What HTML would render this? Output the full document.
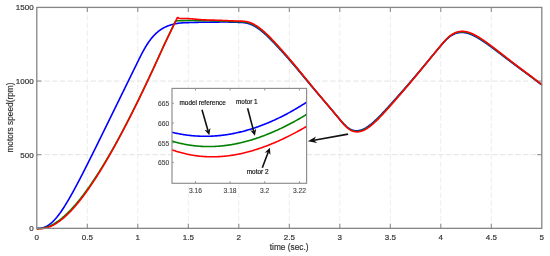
<!DOCTYPE html><html><head><meta charset="utf-8"><style>html,body{margin:0;padding:0;background:#fff;width:550px;height:256px;overflow:hidden}svg{display:block}text{font-family:"Liberation Sans",Arial,sans-serif;stroke-width:0.2px}</style></head><body><svg width="550" height="256" viewBox="0 0 550 256"><rect width="550" height="256" fill="#fff"/><path d="M87.30,7.40V228.35M137.80,7.40V228.35M188.30,7.40V228.35M238.80,7.40V228.35M289.30,7.40V228.35M339.80,7.40V228.35M390.30,7.40V228.35M440.80,7.40V228.35M491.30,7.40V228.35" stroke="#eaeaea" stroke-width="0.9" stroke-dasharray="5.2,2.52" fill="none"/><path d="M36.80,154.70H541.80M36.80,81.05H541.80" stroke="#e0e0e0" stroke-width="0.9" stroke-dasharray="5.2,2.52" fill="none"/><path d="M87.30,228.35v-4.6M87.30,7.40v4.6M137.80,228.35v-4.6M137.80,7.40v4.6M188.30,228.35v-4.6M188.30,7.40v4.6M238.80,228.35v-4.6M238.80,7.40v4.6M289.30,228.35v-4.6M289.30,7.40v4.6M339.80,228.35v-4.6M339.80,7.40v4.6M390.30,228.35v-4.6M390.30,7.40v4.6M440.80,228.35v-4.6M440.80,7.40v4.6M491.30,228.35v-4.6M491.30,7.40v4.6M36.80,154.70h4.6M541.80,154.70h-4.6M36.80,81.05h4.6M541.80,81.05h-4.6" stroke="#858585" stroke-width="1" fill="none"/><path d="M36.80,228.34 L37.13,228.34 L37.47,228.34 L37.80,228.33 L38.13,228.32 L38.47,228.31 L38.80,228.30 L39.13,228.29 L39.46,228.26 L39.80,228.24 L40.13,228.21 L40.46,228.17 L40.80,228.13 L41.13,228.09 L41.46,228.03 L41.80,227.97 L42.13,227.91 L42.46,227.83 L42.80,227.75 L43.13,227.66 L43.46,227.57 L43.79,227.47 L44.13,227.35 L44.46,227.24 L44.79,227.11 L45.13,226.98 L45.46,226.83 L45.79,226.68 L46.13,226.52 L46.46,226.36 L46.79,226.18 L47.13,226.00 L47.46,225.81 L47.79,225.61 L48.12,225.40 L48.46,225.18 L48.79,224.96 L49.12,224.72 L49.46,224.48 L49.79,224.23 L50.12,223.98 L50.46,223.71 L50.79,223.44 L51.12,223.16 L51.46,222.87 L51.79,222.57 L52.12,222.27 L52.45,221.96 L52.79,221.64 L53.12,221.31 L53.45,220.98 L53.79,220.64 L54.12,220.29 L54.45,219.93 L54.79,219.57 L55.12,219.20 L55.45,218.82 L55.79,218.44 L56.12,218.05 L56.45,217.65 L56.79,217.25 L57.12,216.84 L57.45,216.43 L57.78,216.01 L58.12,215.58 L58.45,215.15 L58.78,214.71 L59.12,214.26 L59.45,213.81 L59.78,213.36 L60.12,212.90 L60.45,212.43 L60.78,211.96 L61.12,211.48 L61.45,211.00 L61.78,210.51 L62.11,210.02 L62.45,209.52 L62.78,209.02 L63.11,208.52 L63.45,208.01 L63.78,207.49 L64.11,206.97 L64.45,206.45 L64.78,205.92 L65.11,205.39 L65.45,204.86 L65.78,204.32 L66.11,203.78 L66.44,203.23 L66.78,202.68 L67.11,202.13 L67.44,201.57 L67.78,201.01 L68.11,200.45 L68.44,199.88 L68.78,199.31 L69.11,198.74 L69.44,198.16 L69.78,197.58 L70.11,197.00 L70.44,196.42 L70.77,195.83 L71.11,195.24 L71.44,194.65 L71.77,194.05 L72.11,193.45 L72.44,192.85 L72.77,192.25 L73.11,191.65 L73.44,191.04 L73.77,190.43 L74.11,189.82 L74.44,189.21 L74.77,188.59 L75.10,187.98 L75.44,187.36 L75.77,186.74 L76.10,186.11 L76.44,185.49 L76.77,184.86 L77.10,184.23 L77.44,183.60 L77.77,182.97 L78.10,182.34 L78.44,181.70 L78.77,181.07 L79.10,180.43 L79.43,179.79 L79.77,179.15 L80.10,178.51 L80.43,177.87 L80.77,177.23 L81.10,176.58 L81.43,175.93 L81.77,175.29 L82.10,174.64 L82.43,173.99 L82.77,173.34 L83.10,172.69 L83.43,172.03 L83.76,171.38 L84.10,170.73 L84.43,170.07 L84.76,169.41 L85.10,168.76 L85.43,168.10 L85.76,167.44 L86.10,166.78 L86.43,166.12 L86.76,165.46 L87.10,164.80 L87.43,164.13 L87.76,163.47 L88.09,162.81 L88.43,162.14 L88.76,161.48 L89.09,160.81 L89.43,160.15 L89.76,159.48 L90.09,158.81 L90.43,158.14 L90.76,157.48 L91.09,156.81 L91.43,156.14 L91.76,155.47 L92.09,154.80 L92.43,154.13 L92.76,153.46 L93.09,152.79 L93.42,152.11 L93.76,151.44 L94.09,150.77 L94.42,150.10 L94.76,149.42 L95.09,148.75 L95.42,148.08 L95.76,147.40 L96.09,146.73 L96.42,146.05 L96.76,145.38 L97.09,144.70 L97.42,144.03 L97.75,143.35 L98.09,142.68 L98.42,142.00 L98.75,141.33 L99.09,140.65 L99.42,139.97 L99.75,139.30 L100.09,138.62 L100.42,137.94 L100.75,137.26 L101.09,136.59 L101.42,135.91 L101.75,135.23 L102.08,134.55 L102.42,133.88 L102.75,133.20 L103.08,132.52 L103.42,131.84 L103.75,131.16 L104.08,130.49 L104.42,129.81 L104.75,129.13 L105.08,128.45 L105.42,127.77 L105.75,127.09 L106.08,126.41 L106.41,125.74 L106.75,125.06 L107.08,124.38 L107.41,123.70 L107.75,123.02 L108.08,122.34 L108.41,121.66 L108.75,120.98 L109.08,120.30 L109.41,119.62 L109.75,118.94 L110.08,118.26 L110.41,117.58 L110.74,116.91 L111.08,116.23 L111.41,115.55 L111.74,114.87 L112.08,114.19 L112.41,113.51 L112.74,112.83 L113.08,112.15 L113.41,111.47 L113.74,110.79 L114.08,110.11 L114.41,109.43 L114.74,108.75 L115.07,108.07 L115.41,107.39 L115.74,106.71 L116.07,106.03 L116.41,105.35 L116.74,104.67 L117.07,103.99 L117.41,103.31 L117.74,102.63 L118.07,101.95 L118.41,101.27 L118.74,100.59 L119.07,99.91 L119.40,99.23 L119.74,98.55 L120.07,97.87 L120.40,97.19 L120.74,96.51 L121.07,95.83 L121.40,95.15 L121.74,94.47 L122.07,93.79 L122.40,93.11 L122.74,92.43 L123.07,91.75 L123.40,91.07 L123.73,90.39 L124.07,89.71 L124.40,89.03 L124.73,88.36 L125.07,87.68 L125.40,87.00 L125.73,86.32 L126.07,85.64 L126.40,84.96 L126.73,84.28 L127.07,83.60 L127.40,82.92 L127.73,82.24 L128.07,81.56 L128.40,80.88 L128.73,80.20 L129.06,79.52 L129.40,78.84 L129.73,78.16 L130.06,77.48 L130.40,76.80 L130.73,76.12 L131.06,75.44 L131.40,74.76 L131.73,74.08 L132.06,73.40 L132.40,72.72 L132.73,72.04 L133.06,71.36 L133.39,70.68 L133.73,70.00 L134.06,69.32 L134.39,68.64 L134.73,67.96 L135.06,67.28 L135.39,66.60 L135.73,65.92 L136.06,65.24 L136.39,64.55 L136.73,63.87 L137.06,63.19 L137.39,62.51 L137.72,61.83 L138.06,61.15 L138.39,60.48 L138.72,59.80 L139.06,59.12 L139.39,58.45 L139.72,57.78 L140.06,57.12 L140.39,56.45 L140.72,55.80 L141.06,55.14 L141.39,54.50 L141.72,53.86 L142.05,53.22 L142.39,52.59 L142.72,51.97 L143.05,51.35 L143.39,50.74 L143.72,50.14 L144.05,49.54 L144.39,48.95 L144.72,48.37 L145.05,47.80 L145.39,47.24 L145.72,46.68 L146.05,46.13 L146.38,45.59 L146.72,45.05 L147.05,44.53 L147.38,44.01 L147.72,43.50 L148.05,43.00 L148.38,42.51 L148.72,42.03 L149.05,41.55 L149.38,41.08 L149.72,40.63 L150.05,40.17 L150.38,39.73 L150.71,39.30 L151.05,38.87 L151.38,38.45 L151.71,38.04 L152.05,37.64 L152.38,37.24 L152.71,36.86 L153.05,36.48 L153.38,36.10 L153.71,35.74 L154.05,35.38 L154.38,35.03 L154.71,34.69 L155.06,34.38 L155.56,33.89 L156.06,33.41 L156.56,32.94 L157.06,32.49 L157.56,32.06 L158.06,31.64 L158.56,31.23 L159.07,30.84 L159.57,30.47 L160.07,30.11 L160.57,29.76 L161.07,29.42 L161.57,29.10 L162.07,28.79 L162.57,28.49 L163.07,28.20 L163.57,27.92 L164.08,27.65 L164.58,27.40 L165.08,27.15 L165.58,26.91 L166.08,26.68 L166.58,26.46 L167.08,26.25 L167.58,26.04 L168.08,25.85 L168.58,25.66 L169.09,25.48 L169.59,25.31 L170.09,25.14 L170.59,24.98 L171.09,24.83 L171.59,24.68 L172.09,24.54 L172.59,24.41 L173.09,24.28 L173.59,24.16 L174.09,24.04 L174.60,23.92 L175.10,23.82 L175.60,23.71 L176.10,23.61 L176.60,23.52 L177.10,23.43 L177.60,23.34 L178.10,23.26 L178.60,23.18 L179.10,23.10 L179.61,23.03 L180.30,23.01 L180.80,22.97 L181.30,22.93 L181.80,22.89 L182.30,22.85 L182.80,22.81 L183.30,22.77 L183.80,22.73 L184.30,22.71 L184.80,22.70 L185.30,22.68 L185.80,22.67 L186.30,22.66 L186.80,22.64 L187.30,22.63 L187.80,22.61 L188.30,22.60 L188.80,22.59 L189.30,22.57 L189.80,22.56 L190.30,22.54 L190.80,22.53 L191.30,22.52 L191.80,22.50 L192.30,22.49 L192.80,22.47 L193.30,22.46 L193.80,22.45 L194.30,22.43 L194.80,22.42 L195.30,22.41 L195.80,22.39 L196.30,22.38 L196.80,22.37 L197.30,22.36 L197.80,22.35 L198.30,22.33 L198.80,22.32 L199.30,22.31 L199.80,22.30 L200.30,22.30 L200.80,22.29 L201.30,22.28 L201.80,22.28 L202.30,22.27 L202.80,22.27 L203.30,22.26 L203.80,22.25 L204.30,22.25 L204.80,22.24 L205.30,22.23 L205.80,22.23 L206.30,22.22 L206.80,22.21 L207.30,22.21 L207.80,22.20 L208.30,22.20 L208.80,22.19 L209.30,22.18 L209.80,22.18 L210.30,22.17 L210.80,22.17 L211.30,22.16 L211.80,22.15 L212.30,22.15 L212.80,22.14 L213.30,22.13 L213.80,22.13 L214.30,22.12 L214.80,22.12 L215.30,22.11 L215.80,22.10 L216.30,22.10 L216.80,22.09 L217.30,22.09 L217.80,22.09 L218.30,22.08 L218.80,22.08 L219.30,22.08 L219.80,22.07 L220.30,22.07 L220.80,22.06 L221.30,22.06 L221.80,22.06 L222.30,22.05 L222.80,22.05 L223.30,22.05 L223.80,22.05 L224.30,22.05 L224.80,22.05 L225.30,22.05 L225.80,22.05 L226.30,22.05 L226.80,22.06 L227.30,22.06 L227.80,22.07 L228.30,22.07 L228.80,22.08 L229.30,22.09 L229.80,22.10 L230.30,22.11 L230.80,22.13 L231.30,22.14 L231.80,22.15 L232.30,22.17 L232.80,22.18 L233.30,22.20 L233.80,22.21 L234.30,22.23 L234.80,22.25 L235.30,22.26 L235.80,22.28 L236.30,22.29 L236.80,22.31 L237.30,22.32 L237.80,22.33 L238.30,22.35 L238.80,22.36 L239.30,22.37 L239.80,22.38 L240.30,22.40 L240.80,22.41 L241.30,22.44 L241.80,22.46 L242.30,22.49 L242.80,22.53 L243.30,22.58 L243.80,22.63 L244.30,22.69 L244.80,22.76 L245.30,22.84 L245.80,22.93 L246.30,23.03 L246.80,23.13 L247.30,23.25 L247.80,23.38 L248.30,23.52 L248.80,23.67 L249.30,23.83 L249.80,24.01 L250.30,24.19 L250.80,24.39 L251.30,24.60 L251.80,24.81 L252.30,25.04 L252.80,25.28 L253.30,25.53 L253.80,25.79 L254.30,26.07 L254.80,26.35 L255.30,26.64 L255.80,26.94 L256.30,27.26 L256.80,27.58 L257.30,27.91 L257.80,28.25 L258.30,28.60 L258.80,28.96 L259.30,29.33 L259.80,29.70 L260.30,30.08 L260.80,30.47 L261.30,30.87 L261.80,31.28 L262.30,31.69 L262.80,32.11 L263.30,32.54 L263.80,32.97 L264.30,33.41 L264.80,33.86 L265.30,34.31 L265.80,34.77 L266.30,35.23 L266.80,35.70 L267.30,36.18 L267.80,36.66 L268.30,37.14 L268.80,37.63 L269.30,38.12 L269.80,38.62 L270.30,39.12 L270.80,39.62 L271.30,40.13 L271.80,40.64 L272.30,41.15 L272.80,41.67 L273.30,42.19 L273.80,42.71 L274.30,43.24 L274.80,43.76 L275.30,44.29 L275.80,44.82 L276.30,45.36 L276.80,45.89 L277.30,46.43 L277.80,46.97 L278.30,47.51 L278.80,48.05 L279.30,48.59 L279.80,49.13 L280.30,49.67 L280.80,50.22 L281.30,50.77 L281.80,51.32 L282.30,51.87 L282.80,52.42 L283.30,52.97 L283.80,53.53 L284.30,54.08 L284.80,54.64 L285.30,55.20 L285.80,55.76 L286.30,56.32 L286.80,56.89 L287.30,57.46 L287.80,58.02 L288.30,58.59 L288.80,59.17 L289.30,59.74 L289.80,60.31 L290.30,60.89 L290.80,61.47 L291.30,62.05 L291.80,62.63 L292.30,63.21 L292.80,63.79 L293.30,64.38 L293.80,64.97 L294.30,65.55 L294.80,66.14 L295.30,66.73 L295.80,67.33 L296.30,67.92 L296.80,68.51 L297.30,69.11 L297.80,69.70 L298.30,70.30 L298.80,70.90 L299.30,71.50 L299.80,72.10 L300.30,72.70 L300.80,73.30 L301.30,73.90 L301.80,74.50 L302.30,75.10 L302.80,75.71 L303.30,76.31 L303.80,76.91 L304.30,77.51 L304.80,78.11 L305.30,78.72 L305.80,79.32 L306.30,79.92 L306.80,80.52 L307.30,81.12 L307.80,81.72 L308.30,82.32 L308.80,82.92 L309.30,83.52 L309.80,84.11 L310.30,84.71 L310.80,85.31 L311.30,85.90 L311.80,86.50 L312.30,87.09 L312.80,87.68 L313.30,88.28 L313.80,88.87 L314.30,89.46 L314.80,90.05 L315.30,90.64 L315.80,91.23 L316.30,91.82 L316.80,92.41 L317.30,92.99 L317.80,93.58 L318.30,94.16 L318.80,94.75 L319.30,95.33 L319.80,95.91 L320.30,96.50 L320.80,97.08 L321.30,97.66 L321.80,98.24 L322.30,98.82 L322.80,99.41 L323.30,99.99 L323.80,100.57 L324.30,101.15 L324.80,101.73 L325.30,102.31 L325.80,102.89 L326.30,103.48 L326.80,104.06 L327.30,104.64 L327.80,105.23 L328.30,105.81 L328.80,106.39 L329.30,106.98 L329.80,107.56 L330.30,108.15 L330.80,108.73 L331.30,109.32 L331.80,109.91 L332.30,110.50 L332.80,111.09 L333.30,111.67 L333.80,112.26 L334.30,112.85 L334.80,113.44 L335.30,114.04 L335.80,114.63 L336.30,115.22 L336.80,115.81 L337.30,116.41 L337.80,117.00 L338.30,117.60 L338.80,118.19 L339.30,118.79 L339.80,119.39 L340.30,119.98 L340.80,120.57 L341.30,121.15 L341.80,121.73 L342.30,122.30 L342.80,122.85 L343.30,123.40 L343.80,123.93 L344.30,124.44 L344.80,124.94 L345.30,125.42 L345.80,125.88 L346.30,126.32 L346.80,126.75 L347.30,127.15 L347.80,127.53 L348.30,127.90 L348.80,128.24 L349.30,128.56 L349.80,128.85 L350.30,129.13 L350.80,129.38 L351.30,129.61 L351.80,129.82 L352.30,130.01 L352.80,130.17 L353.30,130.32 L353.80,130.44 L354.30,130.54 L354.80,130.62 L355.30,130.68 L355.80,130.72 L356.30,130.74 L356.80,130.74 L357.30,130.72 L357.80,130.68 L358.30,130.63 L358.80,130.55 L359.30,130.46 L359.80,130.35 L360.30,130.23 L360.80,130.09 L361.30,129.93 L361.80,129.76 L362.30,129.58 L362.80,129.37 L363.30,129.15 L363.80,128.92 L364.30,128.68 L364.80,128.42 L365.30,128.14 L365.80,127.86 L366.30,127.56 L366.80,127.24 L367.30,126.92 L367.80,126.58 L368.30,126.24 L368.80,125.88 L369.30,125.51 L369.80,125.13 L370.30,124.74 L370.80,124.35 L371.30,123.94 L371.80,123.52 L372.30,123.10 L372.80,122.67 L373.30,122.23 L373.80,121.78 L374.30,121.33 L374.80,120.87 L375.30,120.41 L375.80,119.94 L376.30,119.46 L376.80,118.98 L377.30,118.49 L377.80,118.00 L378.30,117.50 L378.80,117.00 L379.30,116.50 L379.80,115.99 L380.30,115.48 L380.80,114.97 L381.30,114.45 L381.80,113.93 L382.30,113.41 L382.80,112.89 L383.30,112.36 L383.80,111.83 L384.30,111.30 L384.80,110.76 L385.30,110.22 L385.80,109.68 L386.30,109.14 L386.80,108.60 L387.30,108.05 L387.80,107.51 L388.30,106.96 L388.80,106.41 L389.30,105.86 L389.80,105.30 L390.30,104.75 L390.80,104.19 L391.30,103.64 L391.80,103.08 L392.30,102.52 L392.80,101.96 L393.30,101.40 L393.80,100.84 L394.30,100.28 L394.80,99.72 L395.30,99.15 L395.80,98.59 L396.30,98.03 L396.80,97.46 L397.30,96.90 L397.80,96.33 L398.30,95.77 L398.80,95.20 L399.30,94.63 L399.80,94.07 L400.30,93.50 L400.80,92.93 L401.30,92.37 L401.80,91.80 L402.30,91.23 L402.80,90.66 L403.30,90.10 L403.80,89.53 L404.30,88.96 L404.80,88.39 L405.30,87.81 L405.80,87.24 L406.30,86.67 L406.80,86.09 L407.30,85.52 L407.80,84.94 L408.30,84.37 L408.80,83.79 L409.30,83.21 L409.80,82.63 L410.30,82.05 L410.80,81.47 L411.30,80.89 L411.80,80.30 L412.30,79.72 L412.80,79.13 L413.30,78.55 L413.80,77.96 L414.30,77.37 L414.80,76.78 L415.30,76.19 L415.80,75.60 L416.30,75.01 L416.80,74.42 L417.30,73.82 L417.80,73.23 L418.30,72.64 L418.80,72.04 L419.30,71.44 L419.80,70.85 L420.30,70.25 L420.80,69.65 L421.30,69.05 L421.80,68.45 L422.30,67.85 L422.80,67.25 L423.30,66.65 L423.80,66.05 L424.30,65.45 L424.80,64.85 L425.30,64.25 L425.80,63.65 L426.30,63.05 L426.80,62.45 L427.30,61.84 L427.80,61.24 L428.30,60.64 L428.80,60.04 L429.30,59.44 L429.80,58.84 L430.30,58.24 L430.80,57.64 L431.30,57.04 L431.80,56.45 L432.30,55.85 L432.80,55.25 L433.30,54.65 L433.80,54.05 L434.30,53.46 L434.80,52.86 L435.30,52.26 L435.80,51.67 L436.30,51.07 L436.80,50.48 L437.30,49.88 L437.80,49.29 L438.30,48.69 L438.80,48.10 L439.30,47.51 L439.80,46.91 L440.30,46.32 L440.80,45.73 L441.30,45.14 L441.80,44.55 L442.30,43.97 L442.80,43.40 L443.30,42.83 L443.80,42.28 L444.30,41.73 L444.80,41.20 L445.30,40.68 L445.80,40.17 L446.30,39.67 L446.80,39.19 L447.30,38.73 L447.80,38.28 L448.30,37.85 L448.80,37.43 L449.30,37.03 L449.80,36.65 L450.30,36.28 L450.80,35.93 L451.30,35.60 L451.80,35.29 L452.30,34.99 L452.80,34.72 L453.30,34.46 L453.80,34.21 L454.30,33.98 L454.80,33.77 L455.30,33.58 L455.80,33.40 L456.30,33.24 L456.80,33.10 L457.30,32.97 L457.80,32.85 L458.30,32.75 L458.80,32.67 L459.30,32.60 L459.80,32.54 L460.30,32.50 L460.80,32.47 L461.30,32.45 L461.80,32.45 L462.30,32.45 L462.80,32.48 L463.30,32.51 L463.80,32.55 L464.30,32.61 L464.80,32.68 L465.30,32.77 L465.80,32.86 L466.30,32.96 L466.80,33.08 L467.30,33.21 L467.80,33.35 L468.30,33.49 L468.80,33.65 L469.30,33.82 L469.80,34.00 L470.30,34.19 L470.80,34.38 L471.30,34.59 L471.80,34.80 L472.30,35.02 L472.80,35.25 L473.30,35.49 L473.80,35.73 L474.30,35.98 L474.80,36.24 L475.30,36.51 L475.80,36.78 L476.30,37.05 L476.80,37.33 L477.30,37.62 L477.80,37.91 L478.30,38.21 L478.80,38.51 L479.30,38.82 L479.80,39.13 L480.30,39.44 L480.80,39.76 L481.30,40.08 L481.80,40.40 L482.30,40.73 L482.80,41.06 L483.30,41.39 L483.80,41.73 L484.30,42.07 L484.80,42.41 L485.30,42.75 L485.80,43.10 L486.30,43.45 L486.80,43.80 L487.30,44.15 L487.80,44.51 L488.30,44.87 L488.80,45.23 L489.30,45.59 L489.80,45.95 L490.30,46.32 L490.80,46.68 L491.30,47.05 L491.80,47.42 L492.30,47.79 L492.80,48.16 L493.30,48.53 L493.80,48.91 L494.30,49.28 L494.80,49.66 L495.30,50.03 L495.80,50.41 L496.30,50.79 L496.80,51.17 L497.30,51.55 L497.80,51.93 L498.30,52.31 L498.80,52.69 L499.30,53.07 L499.80,53.45 L500.30,53.83 L500.80,54.22 L501.30,54.60 L501.80,54.98 L502.30,55.37 L502.80,55.75 L503.30,56.13 L503.80,56.51 L504.30,56.90 L504.80,57.28 L505.30,57.66 L505.80,58.04 L506.30,58.43 L506.80,58.81 L507.30,59.19 L507.80,59.57 L508.30,59.95 L508.80,60.33 L509.30,60.71 L509.80,61.09 L510.30,61.46 L510.80,61.84 L511.30,62.22 L511.80,62.59 L512.30,62.97 L512.80,63.35 L513.30,63.72 L513.80,64.10 L514.30,64.47 L514.80,64.84 L515.30,65.21 L515.80,65.59 L516.30,65.96 L516.80,66.33 L517.30,66.70 L517.80,67.07 L518.30,67.44 L518.80,67.80 L519.30,68.17 L519.80,68.54 L520.30,68.91 L520.80,69.27 L521.30,69.64 L521.80,70.00 L522.30,70.37 L522.80,70.73 L523.30,71.10 L523.80,71.46 L524.30,71.83 L524.80,72.19 L525.30,72.56 L525.80,72.93 L526.30,73.29 L526.80,73.66 L527.30,74.02 L527.80,74.39 L528.30,74.76 L528.80,75.13 L529.30,75.50 L529.80,75.87 L530.30,76.24 L530.80,76.61 L531.30,76.98 L531.80,77.35 L532.30,77.73 L532.80,78.10 L533.30,78.48 L533.80,78.85 L534.30,79.23 L534.80,79.61 L535.30,79.99 L535.80,80.36 L536.30,80.74 L536.80,81.13 L537.30,81.51 L537.80,81.89 L538.30,82.27 L538.80,82.66 L539.30,83.04 L539.80,83.43 L540.30,83.81 L540.80,84.20 L541.30,84.59 L541.80,84.98" stroke="#0000ff" stroke-width="1.6" fill="none" stroke-linejoin="round"/><path d="M36.80,228.66 L37.13,228.66 L37.47,228.65 L37.80,228.64 L38.13,228.63 L38.47,228.62 L38.80,228.61 L39.13,228.59 L39.47,228.57 L39.80,228.55 L40.13,228.52 L40.46,228.49 L40.80,228.45 L41.13,228.42 L41.46,228.37 L41.80,228.32 L42.13,228.27 L42.46,228.22 L42.80,228.16 L43.13,228.09 L43.46,228.03 L43.80,227.95 L44.13,227.88 L44.46,227.80 L44.80,227.71 L45.13,227.62 L45.46,227.53 L45.80,227.43 L46.13,227.33 L46.46,227.22 L46.80,227.11 L47.13,227.00 L47.46,226.88 L47.79,226.76 L48.13,226.63 L48.46,226.50 L48.79,226.37 L49.13,226.23 L49.46,226.09 L49.79,225.94 L50.13,225.79 L50.46,225.64 L50.79,225.48 L51.13,225.32 L51.46,225.15 L51.79,224.98 L52.13,224.81 L52.46,224.63 L52.79,224.45 L53.13,224.27 L53.46,224.08 L53.79,223.89 L54.12,223.69 L54.46,223.49 L54.79,223.29 L55.12,223.09 L55.46,222.88 L55.79,222.66 L56.12,222.45 L56.46,222.23 L56.79,222.00 L57.12,221.78 L57.46,221.55 L57.79,221.31 L58.12,221.08 L58.46,220.84 L58.79,220.59 L59.12,220.35 L59.46,220.10 L59.79,219.84 L60.12,219.59 L60.46,219.33 L60.79,219.06 L61.12,218.80 L61.45,218.53 L61.79,218.26 L62.12,217.98 L62.45,217.70 L62.79,217.42 L63.12,217.14 L63.45,216.85 L63.79,216.56 L64.12,216.27 L64.45,215.97 L64.79,215.67 L65.12,215.37 L65.45,215.06 L65.79,214.75 L66.12,214.44 L66.45,214.13 L66.79,213.81 L67.12,213.49 L67.45,213.17 L67.78,212.84 L68.12,212.51 L68.45,212.18 L68.78,211.85 L69.12,211.51 L69.45,211.17 L69.78,210.83 L70.12,210.49 L70.45,210.14 L70.78,209.79 L71.12,209.44 L71.45,209.08 L71.78,208.72 L72.12,208.36 L72.45,208.00 L72.78,207.63 L73.12,207.27 L73.45,206.89 L73.78,206.52 L74.11,206.15 L74.45,205.77 L74.78,205.39 L75.11,205.00 L75.45,204.62 L75.78,204.23 L76.11,203.84 L76.45,203.45 L76.78,203.05 L77.11,202.65 L77.45,202.25 L77.78,201.85 L78.11,201.45 L78.45,201.04 L78.78,200.63 L79.11,200.22 L79.45,199.81 L79.78,199.39 L80.11,198.97 L80.45,198.55 L80.78,198.13 L81.11,197.70 L81.44,197.28 L81.78,196.85 L82.11,196.42 L82.44,195.98 L82.78,195.55 L83.11,195.11 L83.44,194.67 L83.78,194.23 L84.11,193.78 L84.44,193.34 L84.78,192.89 L85.11,192.44 L85.44,191.99 L85.78,191.53 L86.11,191.08 L86.44,190.62 L86.78,190.16 L87.11,189.70 L87.44,189.24 L87.77,188.77 L88.11,188.30 L88.44,187.83 L88.77,187.36 L89.11,186.89 L89.44,186.41 L89.77,185.93 L90.11,185.46 L90.44,184.98 L90.77,184.49 L91.11,184.01 L91.44,183.52 L91.77,183.03 L92.11,182.54 L92.44,182.05 L92.77,181.56 L93.11,181.06 L93.44,180.57 L93.77,180.07 L94.11,179.57 L94.44,179.06 L94.77,178.56 L95.10,178.05 L95.44,177.55 L95.77,177.04 L96.10,176.53 L96.44,176.01 L96.77,175.50 L97.10,174.98 L97.44,174.47 L97.77,173.95 L98.10,173.43 L98.44,172.90 L98.77,172.38 L99.10,171.85 L99.44,171.33 L99.77,170.80 L100.10,170.26 L100.44,169.73 L100.77,169.20 L101.10,168.66 L101.43,168.12 L101.77,167.59 L102.10,167.05 L102.43,166.50 L102.77,165.96 L103.10,165.41 L103.43,164.87 L103.77,164.32 L104.10,163.77 L104.43,163.22 L104.77,162.66 L105.10,162.11 L105.43,161.55 L105.77,160.99 L106.10,160.43 L106.43,159.87 L106.77,159.31 L107.10,158.75 L107.43,158.18 L107.77,157.61 L108.10,157.05 L108.43,156.47 L108.76,155.90 L109.10,155.33 L109.43,154.76 L109.76,154.18 L110.10,153.60 L110.43,153.02 L110.76,152.44 L111.10,151.86 L111.43,151.28 L111.76,150.69 L112.10,150.11 L112.43,149.52 L112.76,148.93 L113.10,148.34 L113.43,147.75 L113.76,147.15 L114.10,146.56 L114.43,145.96 L114.76,145.37 L115.09,144.77 L115.43,144.17 L115.76,143.57 L116.09,142.96 L116.43,142.36 L116.76,141.75 L117.09,141.15 L117.43,140.54 L117.76,139.93 L118.09,139.32 L118.43,138.71 L118.76,138.09 L119.09,137.48 L119.43,136.86 L119.76,136.24 L120.09,135.63 L120.43,135.01 L120.76,134.39 L121.09,133.76 L121.43,133.14 L121.76,132.52 L122.09,131.89 L122.42,131.26 L122.76,130.63 L123.09,130.00 L123.42,129.37 L123.76,128.74 L124.09,128.11 L124.42,127.47 L124.76,126.84 L125.09,126.20 L125.42,125.56 L125.76,124.92 L126.09,124.28 L126.42,123.64 L126.76,123.00 L127.09,122.36 L127.42,121.71 L127.76,121.06 L128.09,120.42 L128.42,119.77 L128.75,119.12 L129.09,118.47 L129.42,117.82 L129.75,117.16 L130.09,116.51 L130.42,115.85 L130.75,115.20 L131.09,114.54 L131.42,113.88 L131.75,113.22 L132.09,112.56 L132.42,111.90 L132.75,111.24 L133.09,110.58 L133.42,109.91 L133.75,109.24 L134.09,108.58 L134.42,107.91 L134.75,107.24 L135.09,106.57 L135.42,105.90 L135.75,105.23 L136.08,104.56 L136.42,103.88 L136.75,103.21 L137.08,102.53 L137.42,101.85 L137.75,101.17 L138.08,100.50 L138.42,99.82 L138.75,99.13 L139.08,98.45 L139.42,97.77 L139.75,97.09 L140.08,96.40 L140.42,95.71 L140.75,95.03 L141.08,94.34 L141.42,93.65 L141.75,92.96 L142.08,92.27 L142.41,91.58 L142.75,90.89 L143.08,90.19 L143.41,89.50 L143.75,88.80 L144.08,88.11 L144.41,87.41 L144.75,86.71 L145.08,86.01 L145.41,85.31 L145.75,84.61 L146.08,83.91 L146.41,83.21 L146.75,82.51 L147.08,81.80 L147.41,81.10 L147.75,80.39 L148.08,79.69 L148.41,78.98 L148.74,78.27 L149.08,77.56 L149.41,76.85 L149.74,76.14 L150.08,75.43 L150.41,74.72 L150.74,74.01 L151.08,73.29 L151.41,72.58 L151.74,71.86 L152.08,71.15 L152.41,70.43 L152.74,69.71 L153.08,69.00 L153.41,68.28 L153.74,67.56 L154.08,66.84 L154.41,66.12 L154.74,65.39 L155.08,64.67 L155.41,63.95 L155.74,63.22 L156.07,62.50 L156.41,61.77 L156.74,61.05 L157.07,60.32 L157.41,59.59 L157.74,58.86 L158.07,58.14 L158.41,57.41 L158.74,56.68 L159.07,55.94 L159.41,55.21 L159.74,54.48 L160.07,53.75 L160.41,53.01 L160.74,52.28 L161.07,51.55 L161.41,50.81 L161.74,50.07 L162.07,49.34 L162.40,48.60 L162.74,47.86 L163.07,47.12 L163.40,46.38 L163.74,45.64 L164.20,44.68 L164.66,43.72 L165.11,42.76 L165.57,41.80 L166.03,40.84 L166.49,39.88 L166.95,38.92 L167.41,37.96 L167.86,37.00 L168.32,36.04 L168.78,35.08 L169.24,34.12 L169.70,33.16 L170.16,32.20 L170.61,31.24 L171.07,30.28 L171.53,29.32 L171.99,28.36 L172.45,27.40 L172.90,26.44 L173.36,25.48 L173.82,24.52 L174.28,23.56 L174.74,22.60 L174.80,22.45 L175.30,21.54 L175.80,21.15 L176.30,20.97 L176.80,20.85 L177.30,20.80 L177.80,20.77 L178.30,20.74 L178.80,20.73 L179.30,20.71 L179.80,20.70 L180.30,20.68 L180.80,20.67 L181.30,20.66 L181.80,20.65 L182.30,20.63 L182.80,20.62 L183.30,20.61 L183.80,20.60 L184.30,20.59 L184.80,20.58 L185.30,20.57 L185.80,20.56 L186.30,20.55 L186.80,20.54 L187.30,20.53 L187.80,20.52 L188.30,20.51 L188.80,20.51 L189.30,20.50 L189.80,20.50 L190.30,20.50 L190.80,20.50 L191.30,20.50 L191.80,20.51 L192.30,20.51 L192.80,20.51 L193.30,20.52 L193.80,20.52 L194.30,20.53 L194.80,20.53 L195.30,20.54 L195.80,20.54 L196.30,20.55 L196.80,20.56 L197.30,20.56 L197.80,20.57 L198.30,20.58 L198.80,20.58 L199.30,20.59 L199.80,20.60 L200.30,20.60 L200.80,20.61 L201.30,20.62 L201.80,20.63 L202.30,20.64 L202.80,20.64 L203.30,20.65 L203.80,20.66 L204.30,20.67 L204.80,20.68 L205.30,20.69 L205.80,20.70 L206.30,20.71 L206.80,20.72 L207.30,20.73 L207.80,20.74 L208.30,20.75 L208.80,20.76 L209.30,20.76 L209.80,20.77 L210.30,20.78 L210.80,20.78 L211.30,20.78 L211.80,20.79 L212.30,20.79 L212.80,20.80 L213.30,20.80 L213.80,20.81 L214.30,20.82 L214.80,20.83 L215.30,20.84 L215.80,20.85 L216.30,20.87 L216.80,20.88 L217.30,20.90 L217.80,20.91 L218.30,20.93 L218.80,20.95 L219.30,20.97 L219.80,20.99 L220.30,21.01 L220.80,21.03 L221.30,21.05 L221.80,21.07 L222.30,21.09 L222.80,21.12 L223.30,21.14 L223.80,21.16 L224.30,21.19 L224.80,21.21 L225.30,21.23 L225.80,21.25 L226.30,21.27 L226.80,21.29 L227.30,21.32 L227.80,21.34 L228.30,21.36 L228.80,21.38 L229.30,21.41 L229.80,21.43 L230.30,21.45 L230.80,21.47 L231.30,21.50 L231.80,21.52 L232.30,21.54 L232.80,21.56 L233.30,21.58 L233.80,21.60 L234.30,21.61 L234.80,21.63 L235.30,21.65 L235.80,21.66 L236.30,21.67 L236.80,21.69 L237.30,21.70 L237.80,21.71 L238.30,21.72 L238.80,21.73 L239.30,21.73 L239.80,21.74 L240.30,21.75 L240.80,21.76 L241.30,21.78 L241.80,21.80 L242.30,21.83 L242.80,21.86 L243.30,21.90 L243.80,21.95 L244.30,22.01 L244.80,22.07 L245.30,22.15 L245.80,22.23 L246.30,22.32 L246.80,22.43 L247.30,22.54 L247.80,22.67 L248.30,22.80 L248.80,22.95 L249.30,23.11 L249.80,23.28 L250.30,23.46 L250.80,23.65 L251.30,23.85 L251.80,24.07 L252.30,24.29 L252.80,24.53 L253.30,24.78 L253.80,25.04 L254.30,25.31 L254.80,25.59 L255.30,25.88 L255.80,26.18 L256.30,26.49 L256.80,26.81 L257.30,27.14 L257.80,27.48 L258.30,27.83 L258.80,28.19 L259.30,28.56 L259.80,28.93 L260.30,29.31 L260.80,29.70 L261.30,30.10 L261.80,30.51 L262.30,30.92 L262.80,31.35 L263.30,31.77 L263.80,32.21 L264.30,32.65 L264.80,33.10 L265.30,33.56 L265.80,34.02 L266.30,34.48 L266.80,34.95 L267.30,35.43 L267.80,35.91 L268.30,36.40 L268.80,36.89 L269.30,37.39 L269.80,37.89 L270.30,38.39 L270.80,38.90 L271.30,39.41 L271.80,39.92 L272.30,40.44 L272.80,40.96 L273.30,41.49 L273.80,42.01 L274.30,42.54 L274.80,43.08 L275.30,43.61 L275.80,44.15 L276.30,44.68 L276.80,45.22 L277.30,45.76 L277.80,46.31 L278.30,46.85 L278.80,47.40 L279.30,47.95 L279.80,48.49 L280.30,49.04 L280.80,49.59 L281.30,50.15 L281.80,50.70 L282.30,51.26 L282.80,51.81 L283.30,52.37 L283.80,52.93 L284.30,53.49 L284.80,54.06 L285.30,54.62 L285.80,55.19 L286.30,55.76 L286.80,56.33 L287.30,56.90 L287.80,57.48 L288.30,58.05 L288.80,58.63 L289.30,59.21 L289.80,59.79 L290.30,60.37 L290.80,60.95 L291.30,61.54 L291.80,62.12 L292.30,62.71 L292.80,63.30 L293.30,63.89 L293.80,64.49 L294.30,65.08 L294.80,65.67 L295.30,66.27 L295.80,66.87 L296.30,67.47 L296.80,68.07 L297.30,68.67 L297.80,69.27 L298.30,69.87 L298.80,70.48 L299.30,71.08 L299.80,71.69 L300.30,72.30 L300.80,72.90 L301.30,73.51 L301.80,74.12 L302.30,74.73 L302.80,75.34 L303.30,75.95 L303.80,76.56 L304.30,77.17 L304.80,77.77 L305.30,78.38 L305.80,78.99 L306.30,79.60 L306.80,80.21 L307.30,80.81 L307.80,81.42 L308.30,82.03 L308.80,82.63 L309.30,83.24 L309.80,83.84 L310.30,84.45 L310.80,85.05 L311.30,85.65 L311.80,86.26 L312.30,86.86 L312.80,87.46 L313.30,88.06 L313.80,88.66 L314.30,89.25 L314.80,89.85 L315.30,90.45 L315.80,91.04 L316.30,91.64 L316.80,92.23 L317.30,92.83 L317.80,93.42 L318.30,94.01 L318.80,94.60 L319.30,95.19 L319.80,95.78 L320.30,96.37 L320.80,96.96 L321.30,97.55 L321.80,98.14 L322.30,98.73 L322.80,99.32 L323.30,99.90 L323.80,100.49 L324.30,101.08 L324.80,101.67 L325.30,102.25 L325.80,102.84 L326.30,103.43 L326.80,104.02 L327.30,104.61 L327.80,105.20 L328.30,105.79 L328.80,106.38 L329.30,106.97 L329.80,107.56 L330.30,108.15 L330.80,108.75 L331.30,109.34 L331.80,109.93 L332.30,110.53 L332.80,111.12 L333.30,111.72 L333.80,112.31 L334.30,112.91 L334.80,113.51 L335.30,114.11 L335.80,114.70 L336.30,115.30 L336.80,115.90 L337.30,116.50 L337.80,117.10 L338.30,117.70 L338.80,118.31 L339.30,118.91 L339.80,119.51 L340.30,120.11 L340.80,120.71 L341.30,121.31 L341.80,121.90 L342.30,122.47 L342.80,123.04 L343.30,123.60 L343.80,124.14 L344.30,124.67 L344.80,125.18 L345.30,125.67 L345.80,126.15 L346.30,126.61 L346.80,127.05 L347.30,127.47 L347.80,127.86 L348.30,128.24 L348.80,128.60 L349.30,128.93 L349.80,129.24 L350.30,129.53 L350.80,129.80 L351.30,130.04 L351.80,130.27 L352.30,130.47 L352.80,130.64 L353.30,130.80 L353.80,130.93 L354.30,131.05 L354.80,131.14 L355.30,131.21 L355.80,131.26 L356.30,131.29 L356.80,131.30 L357.30,131.29 L357.80,131.26 L358.30,131.21 L358.80,131.15 L359.30,131.07 L359.80,130.97 L360.30,130.85 L360.80,130.72 L361.30,130.57 L361.80,130.40 L362.30,130.22 L362.80,130.02 L363.30,129.81 L363.80,129.58 L364.30,129.34 L364.80,129.08 L365.30,128.81 L365.80,128.53 L366.30,128.23 L366.80,127.92 L367.30,127.60 L367.80,127.27 L368.30,126.92 L368.80,126.57 L369.30,126.20 L369.80,125.82 L370.30,125.43 L370.80,125.04 L371.30,124.63 L371.80,124.22 L372.30,123.79 L372.80,123.36 L373.30,122.92 L373.80,122.47 L374.30,122.02 L374.80,121.56 L375.30,121.09 L375.80,120.62 L376.30,120.14 L376.80,119.65 L377.30,119.16 L377.80,118.67 L378.30,118.17 L378.80,117.66 L379.30,117.16 L379.80,116.65 L380.30,116.13 L380.80,115.61 L381.30,115.09 L381.80,114.57 L382.30,114.04 L382.80,113.51 L383.30,112.98 L383.80,112.45 L384.30,111.91 L384.80,111.37 L385.30,110.83 L385.80,110.28 L386.30,109.73 L386.80,109.19 L387.30,108.64 L387.80,108.08 L388.30,107.53 L388.80,106.97 L389.30,106.42 L389.80,105.86 L390.30,105.30 L390.80,104.74 L391.30,104.18 L391.80,103.61 L392.30,103.05 L392.80,102.48 L393.30,101.92 L393.80,101.35 L394.30,100.78 L394.80,100.21 L395.30,99.64 L395.80,99.07 L396.30,98.50 L396.80,97.93 L397.30,97.36 L397.80,96.79 L398.30,96.22 L398.80,95.65 L399.30,95.08 L399.80,94.50 L400.30,93.93 L400.80,93.36 L401.30,92.78 L401.80,92.21 L402.30,91.64 L402.80,91.06 L403.30,90.49 L403.80,89.91 L404.30,89.34 L404.80,88.76 L405.30,88.18 L405.80,87.60 L406.30,87.02 L406.80,86.44 L407.30,85.86 L407.80,85.28 L408.30,84.70 L408.80,84.11 L409.30,83.53 L409.80,82.94 L410.30,82.36 L410.80,81.77 L411.30,81.18 L411.80,80.59 L412.30,80.00 L412.80,79.41 L413.30,78.82 L413.80,78.22 L414.30,77.63 L414.80,77.04 L415.30,76.44 L415.80,75.84 L416.30,75.24 L416.80,74.65 L417.30,74.05 L417.80,73.45 L418.30,72.85 L418.80,72.24 L419.30,71.64 L419.80,71.04 L420.30,70.43 L420.80,69.83 L421.30,69.22 L421.80,68.62 L422.30,68.01 L422.80,67.40 L423.30,66.80 L423.80,66.19 L424.30,65.58 L424.80,64.98 L425.30,64.37 L425.80,63.76 L426.30,63.15 L426.80,62.54 L427.30,61.94 L427.80,61.33 L428.30,60.72 L428.80,60.11 L429.30,59.51 L429.80,58.90 L430.30,58.29 L430.80,57.69 L431.30,57.08 L431.80,56.47 L432.30,55.87 L432.80,55.26 L433.30,54.66 L433.80,54.05 L434.30,53.45 L434.80,52.85 L435.30,52.24 L435.80,51.64 L436.30,51.04 L436.80,50.44 L437.30,49.83 L437.80,49.23 L438.30,48.63 L438.80,48.03 L439.30,47.43 L439.80,46.83 L440.30,46.23 L440.80,45.63 L441.30,45.04 L441.80,44.44 L442.30,43.85 L442.80,43.27 L443.30,42.69 L443.80,42.13 L444.30,41.57 L444.80,41.02 L445.30,40.49 L445.80,39.97 L446.30,39.46 L446.80,38.97 L447.30,38.49 L447.80,38.03 L448.30,37.58 L448.80,37.15 L449.30,36.74 L449.80,36.34 L450.30,35.96 L450.80,35.60 L451.30,35.26 L451.80,34.93 L452.30,34.63 L452.80,34.34 L453.30,34.06 L453.80,33.81 L454.30,33.57 L454.80,33.35 L455.30,33.14 L455.80,32.96 L456.30,32.79 L456.80,32.63 L457.30,32.49 L457.80,32.37 L458.30,32.26 L458.80,32.17 L459.30,32.09 L459.80,32.02 L460.30,31.97 L460.80,31.94 L461.30,31.91 L461.80,31.90 L462.30,31.90 L462.80,31.92 L463.30,31.94 L463.80,31.98 L464.30,32.04 L464.80,32.10 L465.30,32.18 L465.80,32.27 L466.30,32.37 L466.80,32.48 L467.30,32.60 L467.80,32.74 L468.30,32.88 L468.80,33.04 L469.30,33.20 L469.80,33.38 L470.30,33.56 L470.80,33.76 L471.30,33.96 L471.80,34.17 L472.30,34.39 L472.80,34.62 L473.30,34.86 L473.80,35.10 L474.30,35.35 L474.80,35.61 L475.30,35.87 L475.80,36.14 L476.30,36.42 L476.80,36.70 L477.30,36.99 L477.80,37.28 L478.30,37.58 L478.80,37.88 L479.30,38.19 L479.80,38.50 L480.30,38.81 L480.80,39.13 L481.30,39.45 L481.80,39.78 L482.30,40.11 L482.80,40.44 L483.30,40.78 L483.80,41.12 L484.30,41.46 L484.80,41.80 L485.30,42.15 L485.80,42.50 L486.30,42.85 L486.80,43.20 L487.30,43.56 L487.80,43.92 L488.30,44.28 L488.80,44.64 L489.30,45.00 L489.80,45.37 L490.30,45.74 L490.80,46.11 L491.30,46.48 L491.80,46.85 L492.30,47.23 L492.80,47.60 L493.30,47.98 L493.80,48.35 L494.30,48.73 L494.80,49.11 L495.30,49.49 L495.80,49.87 L496.30,50.26 L496.80,50.64 L497.30,51.02 L497.80,51.41 L498.30,51.79 L498.80,52.18 L499.30,52.56 L499.80,52.95 L500.30,53.33 L500.80,53.72 L501.30,54.11 L501.80,54.49 L502.30,54.88 L502.80,55.27 L503.30,55.66 L503.80,56.04 L504.30,56.43 L504.80,56.82 L505.30,57.20 L505.80,57.59 L506.30,57.98 L506.80,58.36 L507.30,58.75 L507.80,59.13 L508.30,59.52 L508.80,59.90 L509.30,60.28 L509.80,60.67 L510.30,61.05 L510.80,61.43 L511.30,61.81 L511.80,62.20 L512.30,62.58 L512.80,62.96 L513.30,63.33 L513.80,63.71 L514.30,64.09 L514.80,64.47 L515.30,64.85 L515.80,65.22 L516.30,65.60 L516.80,65.97 L517.30,66.35 L517.80,66.72 L518.30,67.09 L518.80,67.47 L519.30,67.84 L519.80,68.21 L520.30,68.58 L520.80,68.95 L521.30,69.32 L521.80,69.69 L522.30,70.06 L522.80,70.43 L523.30,70.80 L523.80,71.17 L524.30,71.54 L524.80,71.91 L525.30,72.28 L525.80,72.65 L526.30,73.02 L526.80,73.39 L527.30,73.76 L527.80,74.13 L528.30,74.50 L528.80,74.87 L529.30,75.25 L529.80,75.62 L530.30,75.99 L530.80,76.37 L531.30,76.74 L531.80,77.12 L532.30,77.50 L532.80,77.88 L533.30,78.26 L533.80,78.64 L534.30,79.02 L534.80,79.40 L535.30,79.78 L535.80,80.16 L536.30,80.55 L536.80,80.93 L537.30,81.32 L537.80,81.70 L538.30,82.09 L538.80,82.48 L539.30,82.87 L539.80,83.26 L540.30,83.65 L540.80,84.04 L541.30,84.43 L541.80,84.82" stroke="#008000" stroke-width="1.6" fill="none" stroke-linejoin="round"/><path d="M36.80,228.75 L37.13,228.75 L37.47,228.74 L37.80,228.74 L38.13,228.73 L38.47,228.73 L38.80,228.72 L39.13,228.72 L39.46,228.72 L39.80,228.71 L40.13,228.70 L40.46,228.69 L40.80,228.68 L41.13,228.66 L41.46,228.64 L41.80,228.61 L42.13,228.59 L42.46,228.55 L42.79,228.52 L43.13,228.47 L43.46,228.43 L43.79,228.38 L44.13,228.32 L44.46,228.26 L44.79,228.20 L45.13,228.13 L45.46,228.06 L45.79,227.98 L46.12,227.90 L46.46,227.81 L46.79,227.72 L47.12,227.62 L47.46,227.52 L47.79,227.42 L48.12,227.31 L48.46,227.20 L48.79,227.08 L49.12,226.96 L49.45,226.84 L49.79,226.71 L50.12,226.57 L50.45,226.44 L50.79,226.29 L51.12,226.15 L51.45,226.00 L51.79,225.84 L52.12,225.69 L52.45,225.52 L52.78,225.36 L53.12,225.19 L53.45,225.01 L53.78,224.83 L54.12,224.65 L54.45,224.47 L54.78,224.28 L55.12,224.08 L55.45,223.89 L55.78,223.68 L56.11,223.48 L56.45,223.27 L56.78,223.06 L57.11,222.84 L57.45,222.62 L57.78,222.40 L58.11,222.17 L58.45,221.94 L58.78,221.71 L59.11,221.47 L59.45,221.23 L59.78,220.98 L60.11,220.74 L60.44,220.49 L60.78,220.23 L61.11,219.97 L61.44,219.71 L61.78,219.45 L62.11,219.18 L62.44,218.90 L62.78,218.63 L63.11,218.35 L63.44,218.07 L63.77,217.78 L64.11,217.50 L64.44,217.21 L64.77,216.91 L65.11,216.61 L65.44,216.31 L65.77,216.01 L66.11,215.70 L66.44,215.39 L66.77,215.08 L67.10,214.76 L67.44,214.44 L67.77,214.12 L68.10,213.80 L68.44,213.47 L68.77,213.14 L69.10,212.80 L69.44,212.47 L69.77,212.13 L70.10,211.78 L70.43,211.44 L70.77,211.09 L71.10,210.74 L71.43,210.38 L71.77,210.03 L72.10,209.67 L72.43,209.31 L72.77,208.94 L73.10,208.57 L73.43,208.20 L73.76,207.83 L74.10,207.45 L74.43,207.08 L74.76,206.69 L75.10,206.31 L75.43,205.92 L75.76,205.54 L76.10,205.14 L76.43,204.75 L76.76,204.35 L77.10,203.95 L77.43,203.55 L77.76,203.15 L78.09,202.74 L78.43,202.33 L78.76,201.92 L79.09,201.51 L79.43,201.09 L79.76,200.67 L80.09,200.25 L80.43,199.83 L80.76,199.40 L81.09,198.98 L81.42,198.55 L81.76,198.11 L82.09,197.68 L82.42,197.24 L82.76,196.80 L83.09,196.36 L83.42,195.92 L83.76,195.47 L84.09,195.02 L84.42,194.57 L84.75,194.12 L85.09,193.67 L85.42,193.21 L85.75,192.75 L86.09,192.29 L86.42,191.83 L86.75,191.36 L87.09,190.90 L87.42,190.43 L87.75,189.96 L88.08,189.48 L88.42,189.01 L88.75,188.53 L89.08,188.05 L89.42,187.57 L89.75,187.09 L90.08,186.60 L90.42,186.12 L90.75,185.63 L91.08,185.14 L91.41,184.64 L91.75,184.15 L92.08,183.65 L92.41,183.16 L92.75,182.66 L93.08,182.15 L93.41,181.65 L93.75,181.14 L94.08,180.64 L94.41,180.13 L94.74,179.62 L95.08,179.11 L95.41,178.59 L95.74,178.07 L96.08,177.56 L96.41,177.04 L96.74,176.52 L97.08,175.99 L97.41,175.47 L97.74,174.94 L98.08,174.41 L98.41,173.88 L98.74,173.35 L99.07,172.82 L99.41,172.29 L99.74,171.75 L100.07,171.21 L100.41,170.67 L100.74,170.13 L101.07,169.59 L101.41,169.04 L101.74,168.50 L102.07,167.95 L102.40,167.40 L102.74,166.85 L103.07,166.30 L103.40,165.74 L103.74,165.19 L104.07,164.63 L104.40,164.07 L104.74,163.51 L105.07,162.95 L105.40,162.39 L105.73,161.82 L106.07,161.26 L106.40,160.69 L106.73,160.12 L107.07,159.55 L107.40,158.98 L107.73,158.40 L108.07,157.83 L108.40,157.25 L108.73,156.68 L109.06,156.10 L109.40,155.52 L109.73,154.93 L110.06,154.35 L110.40,153.77 L110.73,153.18 L111.06,152.59 L111.40,152.00 L111.73,151.41 L112.06,150.82 L112.39,150.23 L112.73,149.63 L113.06,149.04 L113.39,148.44 L113.73,147.84 L114.06,147.24 L114.39,146.64 L114.73,146.04 L115.06,145.43 L115.39,144.83 L115.72,144.22 L116.06,143.61 L116.39,143.01 L116.72,142.40 L117.06,141.78 L117.39,141.17 L117.72,140.56 L118.06,139.94 L118.39,139.33 L118.72,138.71 L119.06,138.09 L119.39,137.47 L119.72,136.85 L120.05,136.23 L120.39,135.60 L120.72,134.98 L121.05,134.35 L121.39,133.72 L121.72,133.10 L122.05,132.47 L122.39,131.84 L122.72,131.20 L123.05,130.57 L123.38,129.94 L123.72,129.30 L124.05,128.66 L124.38,128.03 L124.72,127.39 L125.05,126.75 L125.38,126.11 L125.72,125.46 L126.05,124.82 L126.38,124.18 L126.71,123.53 L127.05,122.89 L127.38,122.24 L127.71,121.59 L128.05,120.94 L128.38,120.29 L128.71,119.64 L129.05,118.98 L129.38,118.33 L129.71,117.67 L130.04,117.02 L130.38,116.36 L130.71,115.70 L131.04,115.04 L131.38,114.38 L131.71,113.72 L132.04,113.06 L132.38,112.40 L132.71,111.73 L133.04,111.07 L133.37,110.40 L133.71,109.73 L134.04,109.06 L134.37,108.39 L134.71,107.72 L135.04,107.05 L135.37,106.38 L135.71,105.71 L136.04,105.03 L136.37,104.36 L136.70,103.68 L137.04,103.00 L137.37,102.32 L137.70,101.65 L138.04,100.97 L138.37,100.28 L138.70,99.60 L139.04,98.92 L139.37,98.23 L139.70,97.55 L140.04,96.86 L140.37,96.18 L140.70,95.49 L141.03,94.80 L141.37,94.11 L141.70,93.42 L142.03,92.73 L142.37,92.04 L142.70,91.34 L143.03,90.65 L143.37,89.95 L143.70,89.26 L144.03,88.56 L144.36,87.86 L144.70,87.16 L145.03,86.47 L145.36,85.77 L145.70,85.06 L146.03,84.36 L146.36,83.66 L146.70,82.96 L147.03,82.25 L147.36,81.55 L147.69,80.84 L148.03,80.13 L148.36,79.43 L148.69,78.72 L149.03,78.01 L149.36,77.30 L149.69,76.59 L150.03,75.87 L150.36,75.16 L150.69,74.45 L151.02,73.73 L151.36,73.02 L151.69,72.30 L152.02,71.59 L152.36,70.87 L152.69,70.15 L153.02,69.44 L153.36,68.72 L153.69,68.00 L154.02,67.27 L154.35,66.55 L154.69,65.83 L155.02,65.11 L155.35,64.38 L155.69,63.66 L156.02,62.94 L156.35,62.21 L156.69,61.48 L157.02,60.76 L157.35,60.03 L157.69,59.30 L158.02,58.57 L158.35,57.84 L158.68,57.11 L159.02,56.38 L159.35,55.65 L159.68,54.91 L160.02,54.18 L160.35,53.45 L160.68,52.71 L161.02,51.98 L161.35,51.24 L161.68,50.50 L162.01,49.77 L162.35,49.03 L162.68,48.29 L163.01,47.55 L163.35,46.81 L163.68,46.07 L164.01,45.33 L164.47,44.37 L164.94,43.41 L165.40,42.45 L165.86,41.48 L166.33,40.52 L166.79,39.56 L167.25,38.60 L167.72,37.64 L168.18,36.68 L168.64,35.72 L169.11,34.75 L169.57,33.79 L170.03,32.83 L170.50,31.87 L170.96,30.91 L171.43,29.95 L171.89,28.99 L172.35,28.03 L172.82,27.06 L173.28,26.10 L173.74,25.14 L174.21,24.18 L174.67,23.22 L175.13,22.26 L175.60,21.30 L176.06,20.33 L176.52,19.37 L176.99,18.41 L177.45,17.45 L177.80,17.53 L178.30,17.80 L178.80,18.21 L179.30,18.36 L179.80,18.44 L180.30,18.45 L180.80,18.45 L181.30,18.45 L181.80,18.45 L182.30,18.45 L182.80,18.45 L183.30,18.45 L183.80,18.45 L184.30,18.45 L184.80,18.46 L185.30,18.47 L185.80,18.48 L186.30,18.50 L186.80,18.53 L187.30,18.55 L187.80,18.58 L188.30,18.61 L188.80,18.63 L189.30,18.66 L189.80,18.69 L190.30,18.72 L190.80,18.75 L191.30,18.78 L191.80,18.81 L192.30,18.85 L192.80,18.89 L193.30,18.94 L193.80,18.99 L194.30,19.04 L194.80,19.09 L195.30,19.15 L195.80,19.20 L196.30,19.25 L196.80,19.31 L197.30,19.36 L197.80,19.41 L198.30,19.46 L198.80,19.50 L199.30,19.55 L199.80,19.59 L200.30,19.63 L200.80,19.67 L201.30,19.71 L201.80,19.75 L202.30,19.78 L202.80,19.81 L203.30,19.83 L203.80,19.85 L204.30,19.86 L204.80,19.88 L205.30,19.90 L205.80,19.91 L206.30,19.93 L206.80,19.95 L207.30,19.96 L207.80,19.98 L208.30,19.99 L208.80,20.01 L209.30,20.03 L209.80,20.04 L210.30,20.06 L210.80,20.07 L211.30,20.08 L211.80,20.10 L212.30,20.11 L212.80,20.12 L213.30,20.13 L213.80,20.14 L214.30,20.16 L214.80,20.17 L215.30,20.19 L215.80,20.20 L216.30,20.21 L216.80,20.23 L217.30,20.25 L217.80,20.26 L218.30,20.28 L218.80,20.30 L219.30,20.31 L219.80,20.33 L220.30,20.35 L220.80,20.37 L221.30,20.39 L221.80,20.41 L222.30,20.43 L222.80,20.45 L223.30,20.47 L223.80,20.49 L224.30,20.51 L224.80,20.53 L225.30,20.55 L225.80,20.57 L226.30,20.60 L226.80,20.62 L227.30,20.64 L227.80,20.66 L228.30,20.69 L228.80,20.71 L229.30,20.73 L229.80,20.75 L230.30,20.78 L230.80,20.80 L231.30,20.82 L231.80,20.84 L232.30,20.87 L232.80,20.89 L233.30,20.91 L233.80,20.93 L234.30,20.94 L234.80,20.96 L235.30,20.98 L235.80,20.99 L236.30,21.01 L236.80,21.02 L237.30,21.03 L237.80,21.04 L238.30,21.05 L238.80,21.06 L239.30,21.07 L239.80,21.08 L240.30,21.09 L240.80,21.10 L241.30,21.11 L241.80,21.13 L242.30,21.16 L242.80,21.19 L243.30,21.22 L243.80,21.27 L244.30,21.32 L244.80,21.38 L245.30,21.45 L245.80,21.53 L246.30,21.62 L246.80,21.72 L247.30,21.83 L247.80,21.95 L248.30,22.08 L248.80,22.23 L249.30,22.38 L249.80,22.55 L250.30,22.72 L250.80,22.91 L251.30,23.11 L251.80,23.32 L252.30,23.55 L252.80,23.78 L253.30,24.03 L253.80,24.28 L254.30,24.55 L254.80,24.83 L255.30,25.12 L255.80,25.42 L256.30,25.72 L256.80,26.04 L257.30,26.37 L257.80,26.71 L258.30,27.06 L258.80,27.42 L259.30,27.78 L259.80,28.16 L260.30,28.54 L260.80,28.93 L261.30,29.33 L261.80,29.74 L262.30,30.15 L262.80,30.58 L263.30,31.01 L263.80,31.44 L264.30,31.89 L264.80,32.34 L265.30,32.79 L265.80,33.26 L266.30,33.73 L266.80,34.20 L267.30,34.68 L267.80,35.16 L268.30,35.65 L268.80,36.15 L269.30,36.65 L269.80,37.15 L270.30,37.66 L270.80,38.17 L271.30,38.68 L271.80,39.20 L272.30,39.73 L272.80,40.25 L273.30,40.78 L273.80,41.31 L274.30,41.84 L274.80,42.38 L275.30,42.92 L275.80,43.46 L276.30,44.00 L276.80,44.55 L277.30,45.10 L277.80,45.64 L278.30,46.19 L278.80,46.75 L279.30,47.30 L279.80,47.85 L280.30,48.41 L280.80,48.96 L281.30,49.52 L281.80,50.08 L282.30,50.64 L282.80,51.20 L283.30,51.77 L283.80,52.33 L284.30,52.90 L284.80,53.47 L285.30,54.04 L285.80,54.61 L286.30,55.19 L286.80,55.76 L287.30,56.34 L287.80,56.92 L288.30,57.50 L288.80,58.08 L289.30,58.67 L289.80,59.25 L290.30,59.84 L290.80,60.43 L291.30,61.02 L291.80,61.61 L292.30,62.21 L292.80,62.80 L293.30,63.40 L293.80,64.00 L294.30,64.60 L294.80,65.20 L295.30,65.80 L295.80,66.41 L296.30,67.01 L296.80,67.62 L297.30,68.22 L297.80,68.83 L298.30,69.44 L298.80,70.05 L299.30,70.66 L299.80,71.28 L300.30,71.89 L300.80,72.50 L301.30,73.12 L301.80,73.73 L302.30,74.35 L302.80,74.96 L303.30,75.58 L303.80,76.20 L304.30,76.81 L304.80,77.43 L305.30,78.04 L305.80,78.66 L306.30,79.27 L306.80,79.89 L307.30,80.50 L307.80,81.12 L308.30,81.73 L308.80,82.34 L309.30,82.95 L309.80,83.57 L310.30,84.18 L310.80,84.79 L311.30,85.40 L311.80,86.01 L312.30,86.61 L312.80,87.22 L313.30,87.83 L313.80,88.43 L314.30,89.04 L314.80,89.64 L315.30,90.25 L315.80,90.85 L316.30,91.45 L316.80,92.05 L317.30,92.65 L317.80,93.25 L318.30,93.85 L318.80,94.45 L319.30,95.05 L319.80,95.65 L320.30,96.24 L320.80,96.84 L321.30,97.43 L321.80,98.03 L322.30,98.62 L322.80,99.22 L323.30,99.81 L323.80,100.41 L324.30,101.00 L324.80,101.60 L325.30,102.19 L325.80,102.79 L326.30,103.38 L326.80,103.98 L327.30,104.57 L327.80,105.17 L328.30,105.76 L328.80,106.36 L329.30,106.96 L329.80,107.56 L330.30,108.15 L330.80,108.75 L331.30,109.35 L331.80,109.95 L332.30,110.55 L332.80,111.15 L333.30,111.76 L333.80,112.36 L334.30,112.96 L334.80,113.56 L335.30,114.17 L335.80,114.77 L336.30,115.38 L336.80,115.98 L337.30,116.59 L337.80,117.20 L338.30,117.81 L338.80,118.41 L339.30,119.02 L339.80,119.63 L340.30,120.24 L340.80,120.85 L341.30,121.45 L341.80,122.05 L342.30,122.64 L342.80,123.22 L343.30,123.79 L343.80,124.34 L344.30,124.89 L344.80,125.41 L345.30,125.92 L345.80,126.41 L346.30,126.89 L346.80,127.34 L347.30,127.77 L347.80,128.19 L348.30,128.58 L348.80,128.95 L349.30,129.30 L349.80,129.62 L350.30,129.93 L350.80,130.21 L351.30,130.47 L351.80,130.70 L352.30,130.92 L352.80,131.11 L353.30,131.28 L353.80,131.42 L354.30,131.55 L354.80,131.65 L355.30,131.73 L355.80,131.80 L356.30,131.84 L356.80,131.86 L357.30,131.86 L357.80,131.84 L358.30,131.80 L358.80,131.74 L359.30,131.67 L359.80,131.58 L360.30,131.47 L360.80,131.34 L361.30,131.20 L361.80,131.04 L362.30,130.86 L362.80,130.67 L363.30,130.46 L363.80,130.24 L364.30,130.00 L364.80,129.75 L365.30,129.48 L365.80,129.21 L366.30,128.91 L366.80,128.61 L367.30,128.29 L367.80,127.96 L368.30,127.61 L368.80,127.26 L369.30,126.89 L369.80,126.51 L370.30,126.13 L370.80,125.73 L371.30,125.32 L371.80,124.91 L372.30,124.48 L372.80,124.05 L373.30,123.61 L373.80,123.16 L374.30,122.71 L374.80,122.24 L375.30,121.77 L375.80,121.30 L376.30,120.82 L376.80,120.33 L377.30,119.84 L377.80,119.34 L378.30,118.84 L378.80,118.33 L379.30,117.82 L379.80,117.30 L380.30,116.79 L380.80,116.26 L381.30,115.74 L381.80,115.21 L382.30,114.68 L382.80,114.15 L383.30,113.61 L383.80,113.07 L384.30,112.53 L384.80,111.98 L385.30,111.43 L385.80,110.88 L386.30,110.33 L386.80,109.78 L387.30,109.22 L387.80,108.67 L388.30,108.11 L388.80,107.55 L389.30,106.98 L389.80,106.42 L390.30,105.85 L390.80,105.29 L391.30,104.72 L391.80,104.15 L392.30,103.58 L392.80,103.01 L393.30,102.44 L393.80,101.87 L394.30,101.29 L394.80,100.72 L395.30,100.14 L395.80,99.57 L396.30,98.99 L396.80,98.41 L397.30,97.84 L397.80,97.26 L398.30,96.68 L398.80,96.10 L399.30,95.52 L399.80,94.95 L400.30,94.37 L400.80,93.79 L401.30,93.21 L401.80,92.63 L402.30,92.05 L402.80,91.47 L403.30,90.89 L403.80,90.31 L404.30,89.72 L404.80,89.14 L405.30,88.56 L405.80,87.97 L406.30,87.39 L406.80,86.80 L407.30,86.21 L407.80,85.63 L408.30,85.04 L408.80,84.45 L409.30,83.86 L409.80,83.26 L410.30,82.67 L410.80,82.08 L411.30,81.48 L411.80,80.89 L412.30,80.29 L412.80,79.69 L413.30,79.10 L413.80,78.50 L414.30,77.90 L414.80,77.29 L415.30,76.69 L415.80,76.09 L416.30,75.49 L416.80,74.88 L417.30,74.28 L417.80,73.67 L418.30,73.06 L418.80,72.45 L419.30,71.84 L419.80,71.23 L420.30,70.62 L420.80,70.01 L421.30,69.40 L421.80,68.79 L422.30,68.18 L422.80,67.56 L423.30,66.95 L423.80,66.34 L424.30,65.72 L424.80,65.11 L425.30,64.49 L425.80,63.88 L426.30,63.26 L426.80,62.65 L427.30,62.03 L427.80,61.42 L428.30,60.80 L428.80,60.19 L429.30,59.58 L429.80,58.96 L430.30,58.35 L430.80,57.74 L431.30,57.12 L431.80,56.51 L432.30,55.90 L432.80,55.29 L433.30,54.67 L433.80,54.06 L434.30,53.45 L434.80,52.84 L435.30,52.23 L435.80,51.62 L436.30,51.01 L436.80,50.40 L437.30,49.79 L437.80,49.19 L438.30,48.58 L438.80,47.97 L439.30,47.36 L439.80,46.76 L440.30,46.15 L440.80,45.55 L441.30,44.94 L441.80,44.34 L442.30,43.74 L442.80,43.15 L443.30,42.56 L443.80,41.98 L444.30,41.41 L444.80,40.85 L445.30,40.31 L445.80,39.77 L446.30,39.25 L446.80,38.75 L447.30,38.26 L447.80,37.78 L448.30,37.32 L448.80,36.88 L449.30,36.45 L449.80,36.05 L450.30,35.65 L450.80,35.28 L451.30,34.92 L451.80,34.59 L452.30,34.26 L452.80,33.96 L453.30,33.68 L453.80,33.41 L454.30,33.16 L454.80,32.93 L455.30,32.71 L455.80,32.51 L456.30,32.33 L456.80,32.17 L457.30,32.02 L457.80,31.89 L458.30,31.77 L458.80,31.67 L459.30,31.58 L459.80,31.51 L460.30,31.45 L460.80,31.41 L461.30,31.38 L461.80,31.36 L462.30,31.35 L462.80,31.36 L463.30,31.38 L463.80,31.42 L464.30,31.46 L464.80,31.52 L465.30,31.59 L465.80,31.68 L466.30,31.77 L466.80,31.88 L467.30,32.00 L467.80,32.13 L468.30,32.27 L468.80,32.42 L469.30,32.59 L469.80,32.76 L470.30,32.94 L470.80,33.13 L471.30,33.33 L471.80,33.54 L472.30,33.76 L472.80,33.99 L473.30,34.22 L473.80,34.46 L474.30,34.71 L474.80,34.97 L475.30,35.23 L475.80,35.50 L476.30,35.78 L476.80,36.06 L477.30,36.35 L477.80,36.64 L478.30,36.94 L478.80,37.24 L479.30,37.55 L479.80,37.86 L480.30,38.18 L480.80,38.50 L481.30,38.83 L481.80,39.15 L482.30,39.49 L482.80,39.82 L483.30,40.16 L483.80,40.50 L484.30,40.84 L484.80,41.19 L485.30,41.54 L485.80,41.89 L486.30,42.24 L486.80,42.60 L487.30,42.96 L487.80,43.32 L488.30,43.68 L488.80,44.05 L489.30,44.42 L489.80,44.79 L490.30,45.16 L490.80,45.53 L491.30,45.91 L491.80,46.28 L492.30,46.66 L492.80,47.04 L493.30,47.42 L493.80,47.80 L494.30,48.18 L494.80,48.56 L495.30,48.95 L495.80,49.33 L496.30,49.72 L496.80,50.11 L497.30,50.49 L497.80,50.88 L498.30,51.27 L498.80,51.66 L499.30,52.05 L499.80,52.44 L500.30,52.83 L500.80,53.22 L501.30,53.61 L501.80,54.00 L502.30,54.39 L502.80,54.78 L503.30,55.18 L503.80,55.57 L504.30,55.96 L504.80,56.35 L505.30,56.74 L505.80,57.13 L506.30,57.52 L506.80,57.91 L507.30,58.30 L507.80,58.69 L508.30,59.08 L508.80,59.47 L509.30,59.86 L509.80,60.25 L510.30,60.63 L510.80,61.02 L511.30,61.41 L511.80,61.79 L512.30,62.18 L512.80,62.56 L513.30,62.94 L513.80,63.33 L514.30,63.71 L514.80,64.09 L515.30,64.47 L515.80,64.85 L516.30,65.23 L516.80,65.61 L517.30,65.99 L517.80,66.37 L518.30,66.75 L518.80,67.13 L519.30,67.50 L519.80,67.88 L520.30,68.26 L520.80,68.63 L521.30,69.01 L521.80,69.38 L522.30,69.75 L522.80,70.13 L523.30,70.50 L523.80,70.87 L524.30,71.25 L524.80,71.62 L525.30,71.99 L525.80,72.37 L526.30,72.74 L526.80,73.11 L527.30,73.49 L527.80,73.86 L528.30,74.24 L528.80,74.61 L529.30,74.99 L529.80,75.37 L530.30,75.75 L530.80,76.13 L531.30,76.51 L531.80,76.89 L532.30,77.27 L532.80,77.65 L533.30,78.03 L533.80,78.41 L534.30,78.80 L534.80,79.18 L535.30,79.57 L535.80,79.96 L536.30,80.35 L536.80,80.73 L537.30,81.12 L537.80,81.51 L538.30,81.90 L538.80,82.30 L539.30,82.69 L539.80,83.08 L540.30,83.48 L540.80,83.87 L541.30,84.27 L541.80,84.66" stroke="#ff0000" stroke-width="1.6" fill="none" stroke-linejoin="round"/><rect x="36.8" y="7.4" width="505.00" height="220.95" fill="none" stroke="#858585" stroke-width="1.3"/><text x="36.80" y="239.6" font-size="8" fill="#333" stroke="#333" text-anchor="middle">0</text><text x="87.30" y="239.6" font-size="8" fill="#333" stroke="#333" text-anchor="middle">0.5</text><text x="137.80" y="239.6" font-size="8" fill="#333" stroke="#333" text-anchor="middle">1</text><text x="188.30" y="239.6" font-size="8" fill="#333" stroke="#333" text-anchor="middle">1.5</text><text x="238.80" y="239.6" font-size="8" fill="#333" stroke="#333" text-anchor="middle">2</text><text x="289.30" y="239.6" font-size="8" fill="#333" stroke="#333" text-anchor="middle">2.5</text><text x="339.80" y="239.6" font-size="8" fill="#333" stroke="#333" text-anchor="middle">3</text><text x="390.30" y="239.6" font-size="8" fill="#333" stroke="#333" text-anchor="middle">3.5</text><text x="440.80" y="239.6" font-size="8" fill="#333" stroke="#333" text-anchor="middle">4</text><text x="491.30" y="239.6" font-size="8" fill="#333" stroke="#333" text-anchor="middle">4.5</text><text x="541.80" y="239.6" font-size="8" fill="#333" stroke="#333" text-anchor="middle">5</text><text x="33.6" y="231.20" font-size="8" fill="#333" stroke="#333" text-anchor="end">0</text><text x="33.6" y="157.55" font-size="8" fill="#333" stroke="#333" text-anchor="end">500</text><text x="33.6" y="83.90" font-size="8" fill="#333" stroke="#333" text-anchor="end">1000</text><text x="33.6" y="10.25" font-size="8" fill="#333" stroke="#333" text-anchor="end">1500</text><text x="289.15" y="250.2" font-size="8.3" fill="#333" stroke="#333" text-anchor="middle">time (sec.)</text><text transform="translate(12.9,117.55) rotate(-90)" x="0" y="0" font-size="8.3" fill="#333" stroke="#333" text-anchor="middle">motors speed(rpm)</text><rect x="172.0" y="88.4" width="134.60" height="94.90" fill="#fff"/><path d="M195.50,183.30v-2M195.50,88.40v2M230.10,183.30v-2M230.10,88.40v2M264.70,183.30v-2M264.70,88.40v2M299.40,183.30v-2M299.40,88.40v2M172.00,103.30h1.8M172.00,123.00h1.8M172.00,142.70h1.8M172.00,162.40h1.8" stroke="#858585" stroke-width="0.9" fill="none"/><g fill="none" stroke-width="1.6"><path d="M172.00,132.28 L172.97,132.51 L173.94,132.74 L174.91,132.96 L175.87,133.17 L176.84,133.38 L177.81,133.57 L178.78,133.77 L179.75,133.95 L180.72,134.13 L181.68,134.30 L182.65,134.46 L183.62,134.61 L184.59,134.76 L185.56,134.91 L186.53,135.04 L187.49,135.17 L188.46,135.29 L189.43,135.40 L190.40,135.51 L191.37,135.61 L192.34,135.70 L193.30,135.79 L194.27,135.87 L195.24,135.94 L196.21,136.01 L197.18,136.07 L198.15,136.12 L199.11,136.17 L200.08,136.20 L201.05,136.24 L202.02,136.26 L202.99,136.28 L203.96,136.29 L204.92,136.30 L205.89,136.30 L206.86,136.29 L207.83,136.27 L208.80,136.25 L209.77,136.22 L210.73,136.19 L211.70,136.15 L212.67,136.10 L213.64,136.04 L214.61,135.98 L215.58,135.91 L216.54,135.84 L217.51,135.76 L218.48,135.67 L219.45,135.58 L220.42,135.48 L221.39,135.37 L222.35,135.26 L223.32,135.14 L224.29,135.01 L225.26,134.88 L226.23,134.74 L227.20,134.59 L228.16,134.44 L229.13,134.29 L230.10,134.12 L231.07,133.95 L232.04,133.77 L233.01,133.59 L233.97,133.40 L234.94,133.20 L235.91,133.00 L236.88,132.79 L237.85,132.58 L238.82,132.36 L239.78,132.13 L240.75,131.90 L241.72,131.66 L242.69,131.41 L243.66,131.16 L244.63,130.90 L245.59,130.64 L246.56,130.37 L247.53,130.09 L248.50,129.81 L249.47,129.52 L250.44,129.22 L251.40,128.92 L252.37,128.62 L253.34,128.30 L254.31,127.99 L255.28,127.66 L256.25,127.33 L257.21,126.99 L258.18,126.65 L259.15,126.30 L260.12,125.95 L261.09,125.59 L262.06,125.22 L263.02,124.85 L263.99,124.47 L264.96,124.09 L265.93,123.70 L266.90,123.30 L267.87,122.90 L268.83,122.49 L269.80,122.08 L270.77,121.66 L271.74,121.23 L272.71,120.80 L273.68,120.37 L274.64,119.93 L275.61,119.48 L276.58,119.03 L277.55,118.57 L278.52,118.10 L279.49,117.63 L280.45,117.16 L281.42,116.67 L282.39,116.19 L283.36,115.69 L284.33,115.20 L285.30,114.69 L286.26,114.18 L287.23,113.67 L288.20,113.15 L289.17,112.62 L290.14,112.09 L291.11,111.55 L292.07,111.01 L293.04,110.46 L294.01,109.91 L294.98,109.35 L295.95,108.79 L296.92,108.22 L297.88,107.64 L298.85,107.06 L299.82,106.48 L300.79,105.88 L301.76,105.29 L302.73,104.69 L303.69,104.08 L304.66,103.47 L305.63,102.85 L306.60,102.23" stroke="#0000ff"/><path d="M172.00,141.09 L172.97,141.38 L173.94,141.66 L174.91,141.94 L175.87,142.21 L176.84,142.46 L177.81,142.71 L178.78,142.96 L179.75,143.19 L180.72,143.42 L181.68,143.63 L182.65,143.84 L183.62,144.04 L184.59,144.24 L185.56,144.42 L186.53,144.60 L187.49,144.77 L188.46,144.93 L189.43,145.09 L190.40,145.23 L191.37,145.37 L192.34,145.50 L193.30,145.62 L194.27,145.74 L195.24,145.85 L196.21,145.95 L197.18,146.04 L198.15,146.12 L199.11,146.20 L200.08,146.27 L201.05,146.33 L202.02,146.39 L202.99,146.43 L203.96,146.47 L204.92,146.50 L205.89,146.53 L206.86,146.55 L207.83,146.56 L208.80,146.56 L209.77,146.56 L210.73,146.54 L211.70,146.53 L212.67,146.50 L213.64,146.47 L214.61,146.43 L215.58,146.38 L216.54,146.32 L217.51,146.26 L218.48,146.19 L219.45,146.12 L220.42,146.04 L221.39,145.95 L222.35,145.85 L223.32,145.75 L224.29,145.64 L225.26,145.52 L226.23,145.40 L227.20,145.27 L228.16,145.13 L229.13,144.99 L230.10,144.84 L231.07,144.68 L232.04,144.52 L233.01,144.35 L233.97,144.17 L234.94,143.99 L235.91,143.80 L236.88,143.61 L237.85,143.40 L238.82,143.20 L239.78,142.98 L240.75,142.76 L241.72,142.53 L242.69,142.30 L243.66,142.06 L244.63,141.81 L245.59,141.56 L246.56,141.30 L247.53,141.04 L248.50,140.77 L249.47,140.49 L250.44,140.21 L251.40,139.92 L252.37,139.62 L253.34,139.32 L254.31,139.01 L255.28,138.70 L256.25,138.38 L257.21,138.06 L258.18,137.73 L259.15,137.39 L260.12,137.05 L261.09,136.70 L262.06,136.35 L263.02,135.99 L263.99,135.63 L264.96,135.26 L265.93,134.88 L266.90,134.50 L267.87,134.11 L268.83,133.72 L269.80,133.32 L270.77,132.92 L271.74,132.51 L272.71,132.10 L273.68,131.68 L274.64,131.25 L275.61,130.82 L276.58,130.39 L277.55,129.95 L278.52,129.50 L279.49,129.05 L280.45,128.60 L281.42,128.13 L282.39,127.67 L283.36,127.20 L284.33,126.72 L285.30,126.24 L286.26,125.75 L287.23,125.26 L288.20,124.77 L289.17,124.26 L290.14,123.76 L291.11,123.25 L292.07,122.73 L293.04,122.21 L294.01,121.69 L294.98,121.16 L295.95,120.62 L296.92,120.08 L297.88,119.54 L298.85,118.99 L299.82,118.44 L300.79,117.88 L301.76,117.32 L302.73,116.75 L303.69,116.18 L304.66,115.61 L305.63,115.03 L306.60,114.44" stroke="#008000"/><path d="M172.00,149.82 L172.97,150.16 L173.94,150.50 L174.91,150.82 L175.87,151.14 L176.84,151.45 L177.81,151.74 L178.78,152.03 L179.75,152.32 L180.72,152.59 L181.68,152.85 L182.65,153.10 L183.62,153.35 L184.59,153.59 L185.56,153.81 L186.53,154.03 L187.49,154.25 L188.46,154.45 L189.43,154.64 L190.40,154.83 L191.37,155.00 L192.34,155.17 L193.30,155.33 L194.27,155.48 L195.24,155.62 L196.21,155.76 L197.18,155.89 L198.15,156.00 L199.11,156.11 L200.08,156.22 L201.05,156.31 L202.02,156.40 L202.99,156.47 L203.96,156.54 L204.92,156.61 L205.89,156.66 L206.86,156.71 L207.83,156.74 L208.80,156.77 L209.77,156.80 L210.73,156.81 L211.70,156.82 L212.67,156.82 L213.64,156.81 L214.61,156.80 L215.58,156.77 L216.54,156.74 L217.51,156.70 L218.48,156.66 L219.45,156.61 L220.42,156.55 L221.39,156.48 L222.35,156.40 L223.32,156.32 L224.29,156.23 L225.26,156.14 L226.23,156.03 L227.20,155.92 L228.16,155.81 L229.13,155.68 L230.10,155.55 L231.07,155.41 L232.04,155.27 L233.01,155.11 L233.97,154.96 L234.94,154.79 L235.91,154.62 L236.88,154.44 L237.85,154.25 L238.82,154.06 L239.78,153.86 L240.75,153.66 L241.72,153.44 L242.69,153.23 L243.66,153.00 L244.63,152.77 L245.59,152.53 L246.56,152.29 L247.53,152.04 L248.50,151.78 L249.47,151.52 L250.44,151.25 L251.40,150.97 L252.37,150.69 L253.34,150.41 L254.31,150.11 L255.28,149.81 L256.25,149.51 L257.21,149.20 L258.18,148.88 L259.15,148.56 L260.12,148.23 L261.09,147.90 L262.06,147.56 L263.02,147.21 L263.99,146.86 L264.96,146.50 L265.93,146.14 L266.90,145.77 L267.87,145.40 L268.83,145.02 L269.80,144.64 L270.77,144.25 L271.74,143.85 L272.71,143.45 L273.68,143.05 L274.64,142.64 L275.61,142.22 L276.58,141.80 L277.55,141.38 L278.52,140.95 L279.49,140.51 L280.45,140.07 L281.42,139.62 L282.39,139.17 L283.36,138.72 L284.33,138.26 L285.30,137.79 L286.26,137.32 L287.23,136.85 L288.20,136.37 L289.17,135.88 L290.14,135.39 L291.11,134.90 L292.07,134.40 L293.04,133.90 L294.01,133.39 L294.98,132.88 L295.95,132.37 L296.92,131.85 L297.88,131.32 L298.85,130.79 L299.82,130.26 L300.79,129.72 L301.76,129.18 L302.73,128.64 L303.69,128.09 L304.66,127.54 L305.63,126.98 L306.60,126.42" stroke="#ff0000"/></g><rect x="172.0" y="88.4" width="134.60" height="94.90" fill="none" stroke="#8c8c8c" stroke-width="1.15"/><text x="195.50" y="192.8" font-size="6.7" fill="#444" stroke="#444" style="stroke-width:0.12px" text-anchor="middle">3.16</text><text x="230.10" y="192.8" font-size="6.7" fill="#444" stroke="#444" style="stroke-width:0.12px" text-anchor="middle">3.18</text><text x="264.70" y="192.8" font-size="6.7" fill="#444" stroke="#444" style="stroke-width:0.12px" text-anchor="middle">3.2</text><text x="299.40" y="192.8" font-size="6.7" fill="#444" stroke="#444" style="stroke-width:0.12px" text-anchor="middle">3.22</text><text x="169.2" y="106.10" font-size="6.7" fill="#444" stroke="#444" style="stroke-width:0.12px" text-anchor="end">665</text><text x="169.2" y="125.80" font-size="6.7" fill="#444" stroke="#444" style="stroke-width:0.12px" text-anchor="end">660</text><text x="169.2" y="145.50" font-size="6.7" fill="#444" stroke="#444" style="stroke-width:0.12px" text-anchor="end">655</text><text x="169.2" y="165.20" font-size="6.7" fill="#444" stroke="#444" style="stroke-width:0.12px" text-anchor="end">650</text><text x="179.5" y="104.8" font-size="6.4" fill="#1a1a1a" stroke="#1a1a1a">model reference</text><text x="236.0" y="104.4" font-size="6.4" fill="#1a1a1a" stroke="#1a1a1a">motor 1</text><text x="246.8" y="173.5" font-size="6.4" fill="#1a1a1a" stroke="#1a1a1a">motor 2</text><path d="M202.00,109.80L208.02,130.76" stroke="#111" stroke-width="1.6" fill="none"/><path d="M209.30,135.20L204.50,129.71L208.02,130.76L210.46,128.00Z" fill="#111"/><path d="M247.60,108.20L253.72,131.33" stroke="#111" stroke-width="1.6" fill="none"/><path d="M254.90,135.80L250.22,130.21L253.72,131.33L256.21,128.63Z" fill="#111"/><path d="M262.30,167.80L268.27,152.02" stroke="#111" stroke-width="1.6" fill="none"/><path d="M269.90,147.70L270.47,154.97L268.27,152.02L264.67,152.78Z" fill="#111"/><path d="M348.10,134.10L314.00,140.19" stroke="#111" stroke-width="1.6" fill="none"/><path d="M307.80,141.30L316.08,136.47L314.00,140.19L317.24,142.97Z" fill="#111"/></svg></body></html>
